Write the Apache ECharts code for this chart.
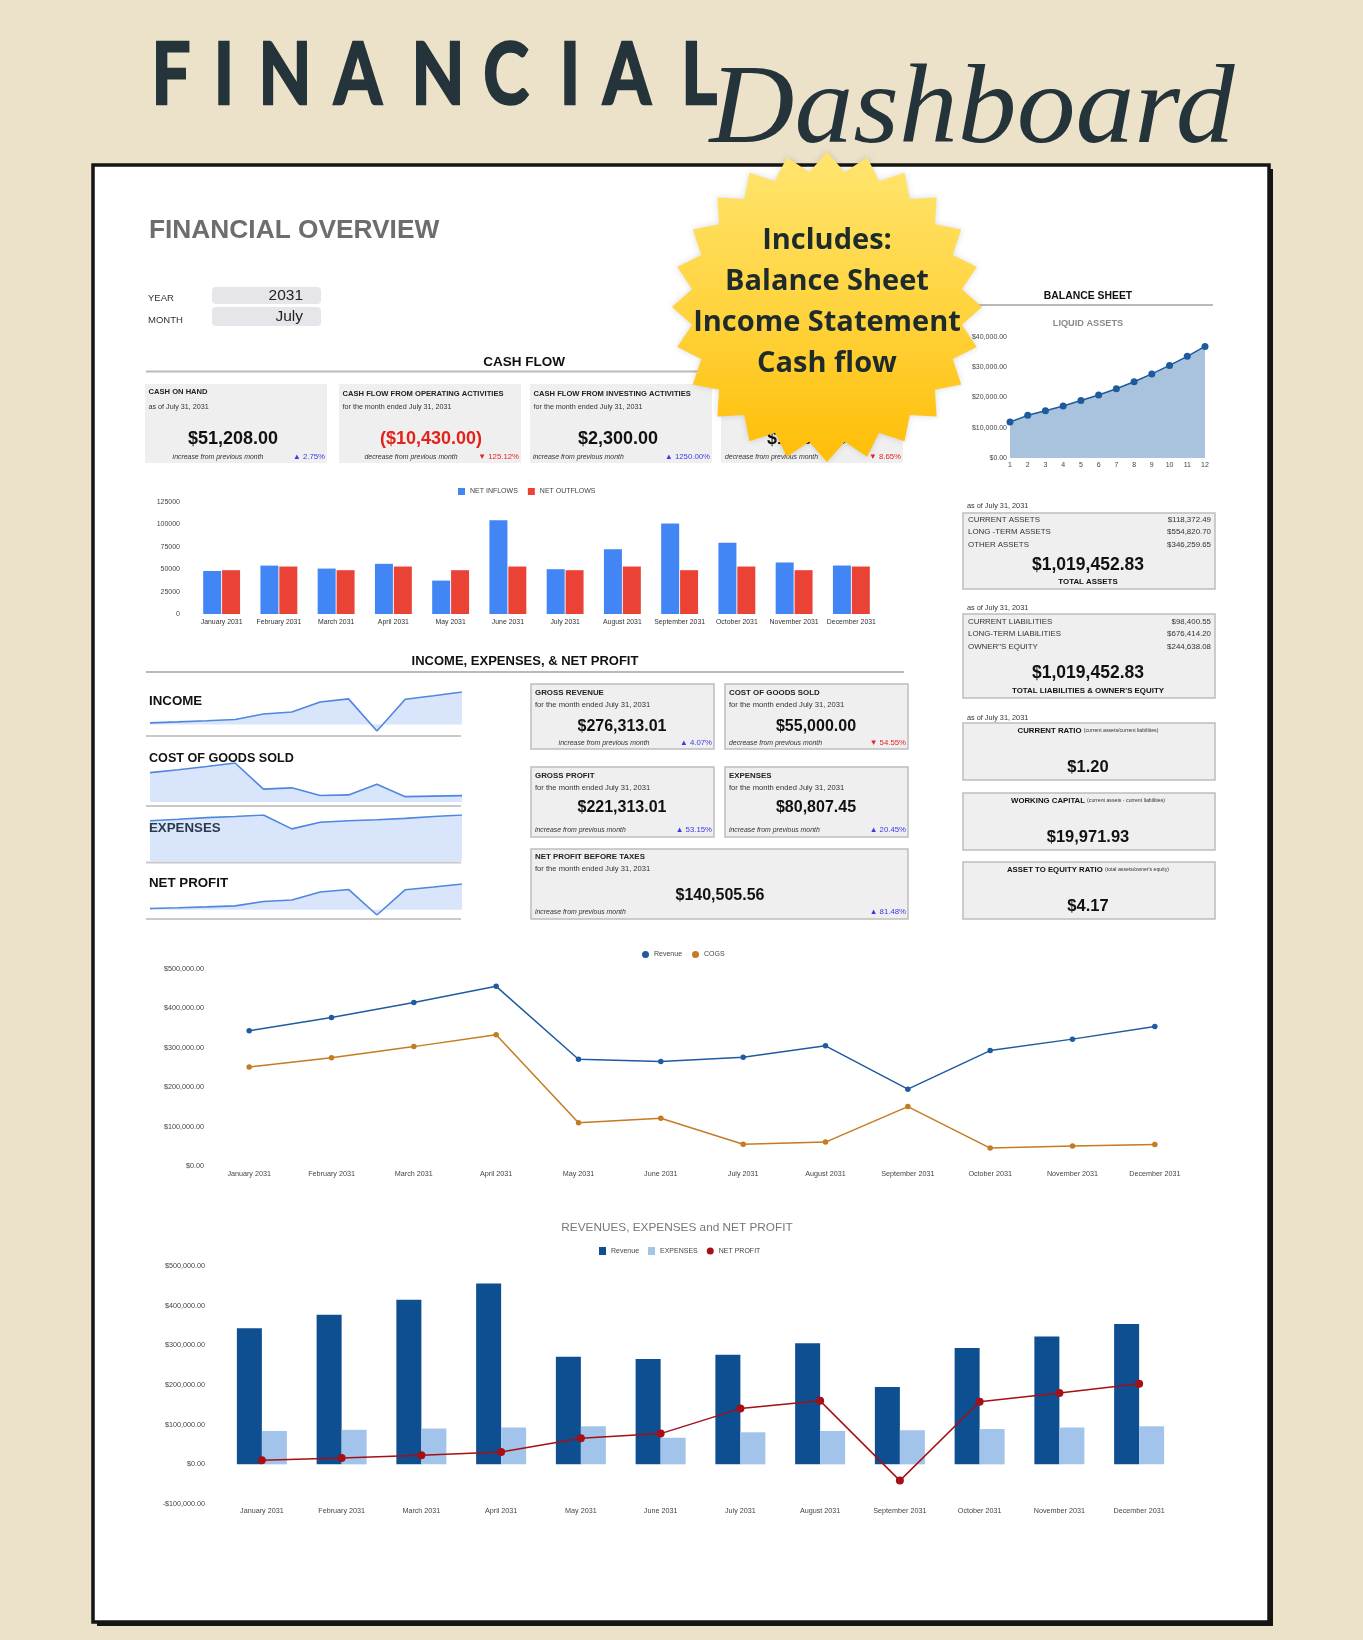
<!DOCTYPE html>
<html><head><meta charset="utf-8">
<script src="https://cdn.jsdelivr.net/npm/echarts/dist/echarts.min.js"></script>
<style>html,body{margin:0;padding:0;background:#ece2ca}#c{width:1363px;height:1640px}</style>
</head><body><div id="c"></div>
<script>
// ---------- DATA ----------
const months = ['January 2031','February 2031','March 2031','April 2031','May 2031','June 2031','July 2031','August 2031','September 2031','October 2031','November 2031','December 2031'];
const netInflows  = [48000, 54000, 50700, 56000, 37300, 104500, 50000, 72400, 101100, 79500, 57500, 54100];
const netOutflows = [48900, 53000, 48900, 53000, 48900, 53000, 48900, 53000, 48900, 53000, 48900, 53000];
const liquidLabels = ['1','2','3','4','5','6','7','8','9','10','11','12'];
const liquidAssets = [11900, 14100, 15600, 17200, 19000, 20800, 22900, 25200, 27800, 30600, 33600, 36900];
const revenue  = [343000, 377000, 415000, 456000, 271000, 265507, 276313, 305000, 195000, 293000, 322000, 354000];
const cogs     = [251000, 275000, 303000, 333000, 110000, 121000, 55000, 60600, 150700, 45500, 50500, 54700];
const expenses = [84000, 87000, 90500, 93000, 96000, 67088, 80807, 84000, 86000, 89000, 93000, 96000];
const netProfit = [10000, 16000, 23000, 31000, 65500, 77422, 140506, 160000, -41000, 158000, 180000, 203000];
const incomeTrend = [10000, 16000, 23000, 31000, 65500, 77422, 140506, 160000, -41000, 158000, 180000, 203000];

const cashTitles = ['CASH ON HAND','CASH FLOW FROM OPERATING ACTIVITIES','CASH FLOW FROM INVESTING ACTIVITIES','CASH FLOW FROM FINANCING ACTIVITIES'];
const cashSubs = ['as of July 31, 2031','for the month ended July 31, 2031','for the month ended July 31, 2031','for the month ended July 31, 2031'];
const cashValues = ['$51,208.00','($10,430.00)','$2,300.00','$19,501.00'];
const cashFoot = ['increase from previous month','decrease from previous month','increase from previous month','decrease from previous month'];
const cashPct = ['▲ 2.75%','▼ 125.12%','▲ 1250.00%','▼ 8.65%'];

const midTitles = ['GROSS REVENUE','COST OF GOODS SOLD','GROSS PROFIT','EXPENSES','NET PROFIT BEFORE TAXES'];
const midValues = ['$276,313.01','$55,000.00','$221,313.01','$80,807.45','$140,505.56'];
const midFoot = ['increase from previous month','decrease from previous month','increase from previous month','increase from previous month','increase from previous month'];
const midPct = ['▲ 4.07%','▼ 54.55%','▲ 53.15%','▲ 20.45%','▲ 81.48%'];

const assetRows = [['CURRENT ASSETS','$118,372.49'],['LONG -TERM ASSETS','$554,820.70'],['OTHER ASSETS','$346,259.65']];
const liabRows = [['CURRENT LIABILITIES','$98,400.55'],['LONG-TERM LIABILITIES','$676,414.20'],['OWNER"S EQUITY','$244,638.08']];
const totalAssets = '$1,019,452.83';
const totalLiab = '$1,019,452.83';
const ratioTitles = ['CURRENT RATIO','WORKING CAPITAL','ASSET TO EQUITY RATIO'];
const ratioNotes = ['(current assets/current liabilities)','(current assets - current liabilities)',"(total assets/owner's equity)"];
const ratioValues = ['$1.20','$19,971.93','$4.17'];

// ---------- HELPERS ----------
const F = '"Liberation Sans", Arial, sans-serif';
const G = [];
function txt(x, y, text, size, o) {
  o = o || {};
  const font = (o.italic ? 'italic ' : '') + (o.bold ? 'bold ' : '') + size + 'px ' + (o.family || F);
  const st = { text: text, font: font, fill: o.color || '#222',
    textAlign: o.align || 'left', textVerticalAlign: o.valign || 'middle',
    align: o.align || 'left', verticalAlign: o.valign || 'middle' };
  if (o.stroke) { st.stroke = o.stroke; st.lineWidth = o.lw || 1; }
  if (o.rich) st.rich = o.rich;
  G.push({ type: 'text', x: x, y: y, z: o.z != null ? o.z : 5, zlevel: o.zlevel || 0,
    scaleX: o.scaleX || 1, scaleY: o.scaleY || 1, silent: true, style: st });
}
function rect(x, y, w, h, fill, o) {
  o = o || {};
  G.push({ type: 'rect', z: o.z != null ? o.z : -5, silent: true,
    shape: { x: x, y: y, width: w, height: h, r: o.r || 0 },
    style: { fill: fill, stroke: o.stroke || null, lineWidth: o.lw || 0 } });
}
function hline(x1, x2, y, color, w) {
  G.push({ type: 'line', z: -4, silent: true, shape: { x1: x1, y1: y, x2: x2, y2: y }, style: { stroke: color, lineWidth: w } });
}
const money = v => (v < 0 ? '-' : '') + '$' + Math.abs(v).toLocaleString('en-US', { minimumFractionDigits: 2, maximumFractionDigits: 2 });
const UP = '#3b3be6', DOWN = '#e6232b';

// ---------- BACKGROUND / HEADER ----------
rect(0, 0, 1363, 1640, '#ece2ca', { z: -20 });
rect(97, 169, 1176, 1457, '#151515', { z: -19 });
rect(93, 165, 1176, 1457, '#ffffff', { z: -18, stroke: '#151515', lw: 3.5 });

const titleLetters = ['F','I','N','A','N','C','I','A','L'];
const letterX = [171, 224, 285, 358, 438, 506, 570, 627, 699];
titleLetters.forEach((l, i) => txt(letterX[i], 76, l, 86, { bold: true, family: 'Lato, "Open Sans", sans-serif', color: '#24343a', stroke: '#24343a', lw: 2.5, align: 'center', scaleX: 0.8, z: 6 }));
txt(972, 113, 'Dashboard', 112, { italic: true, family: '"Liberation Serif", serif', color: '#24343a', align: 'center', scaleX: 1.05, z: 6 });

// ---------- OVERVIEW ----------
txt(149, 231, 'FINANCIAL OVERVIEW', 26.3, { bold: true, color: '#6d6d6d' });
txt(148, 298, 'YEAR', 9.5, { color: '#333' });
txt(148, 320, 'MONTH', 9.5, { color: '#333' });
rect(212, 287, 109, 17, '#e6e6ea', { r: 4 });
rect(212, 307, 109, 19, '#e6e6ea', { r: 4 });
txt(303, 296, '2031', 15.5, { align: 'right', color: '#222' });
txt(303, 317, 'July', 15.5, { align: 'right', color: '#222' });

// ---------- CASH FLOW ----------
txt(524, 362, 'CASH FLOW', 13.5, { bold: true, align: 'center', color: '#111' });
hline(146, 904, 371.5, '#b9b9b9', 2);
const cashX = [145, 339, 530, 721];
const cashTitleY = [391.5, 394, 394, 394];
const cashVX = [233, 431, 618, 812];
const cashFX = [218, 411, 533, 725];
const cashFAlign = ['center', 'center', 'left', 'left'];
cashX.forEach((x, i) => {
  rect(x, 384, 182, 79, '#efefef');
  txt(x + 3.5, cashTitleY[i], cashTitles[i], 7.6, { bold: true, color: '#222' });
  txt(x + 3.5, 407, cashSubs[i], 7.2, { color: '#333' });
  txt(cashVX[i], 439, cashValues[i], 18, { bold: true, align: 'center', color: i === 1 ? '#e3221c' : '#111' });
  txt(cashFX[i], 457, cashFoot[i], 6.9, { italic: true, align: cashFAlign[i], color: '#333' });
  txt(x + 180, 457, cashPct[i], 7.8, { align: 'right', color: cashPct[i][0] === '▲' ? UP : DOWN });
});

// ---------- BALANCE SHEET ----------
txt(1088, 296, 'BALANCE SHEET', 10.4, { bold: true, align: 'center', color: '#111' });
hline(968, 1213, 305, '#b9b9b9', 2);
txt(1088, 323, 'LIQUID ASSETS', 9.2, { bold: true, align: 'center', color: '#8a8a8a' });

const boxStroke = { stroke: '#bdbdbd', lw: 1.5 };
txt(967, 506, 'as of July 31, 2031', 7.3, { color: '#333' });
rect(963, 513, 252, 76, '#efefef', boxStroke);
assetRows.forEach((r, i) => { txt(968, 520 + i * 12.2, r[0], 7.9, { color: '#333' }); txt(1211, 520 + i * 12.2, r[1], 7.9, { align: 'right', color: '#333' }); });
txt(1088, 565, totalAssets, 17.5, { bold: true, align: 'center', color: '#111' });
txt(1088, 582, 'TOTAL ASSETS', 7.9, { bold: true, align: 'center', color: '#111' });

txt(967, 608, 'as of July 31, 2031', 7.3, { color: '#333' });
rect(963, 614, 252, 84, '#efefef', boxStroke);
liabRows.forEach((r, i) => { txt(968, 622 + i * 12.2, r[0], 7.9, { color: '#333' }); txt(1211, 622 + i * 12.2, r[1], 7.9, { align: 'right', color: '#333' }); });
txt(1088, 673, totalLiab, 17.5, { bold: true, align: 'center', color: '#111' });
txt(1088, 691, "TOTAL LIABILITIES & OWNER'S EQUITY", 7.9, { bold: true, align: 'center', color: '#111' });

txt(967, 718, 'as of July 31, 2031', 7.3, { color: '#333' });
const ratioTop = [723, 793, 862];
ratioTop.forEach((y, i) => {
  rect(963, y, 252, 57, '#efefef', boxStroke);
  txt(1088, y + 7.5, '{a|' + ratioTitles[i] + '} {b|' + ratioNotes[i] + '}', 7.8, { align: 'center', color: '#111',
    rich: { a: { font: 'bold 7.8px ' + F, fill: '#111', color: '#111' }, b: { font: '5.2px ' + F, fill: '#333', color: '#333' } } });
  txt(1088, y + 44, ratioValues[i], 16.5, { bold: true, align: 'center', color: '#111' });
});

// ---------- INCOME, EXPENSES & NET PROFIT ----------
txt(525, 661, 'INCOME, EXPENSES, & NET PROFIT', 13, { bold: true, align: 'center', color: '#111' });
hline(146, 904, 672, '#b9b9b9', 2);
txt(149, 701, 'INCOME', 13.3, { bold: true, color: '#111', z: 1 });
txt(149, 759, 'COST OF GOODS SOLD', 12.6, { bold: true, color: '#111', z: 1 });
txt(149, 828, 'EXPENSES', 13.3, { bold: true, color: '#111', z: 1 });
txt(149, 883, 'NET PROFIT', 13.3, { bold: true, color: '#111', z: 1 });
[736, 806, 862.5, 919].forEach(y => hline(146, 461, y, '#c9c9c9', 2));

const midRect = [[531, 684, 183, 65], [725, 684, 183, 65], [531, 767, 183, 70], [725, 767, 183, 70], [531, 849, 377, 70]];
const midVX = [622, 816, 622, 816, 720];
const midFX = [604, 729, 535, 729, 535];
const midFAlign = ['center', 'left', 'left', 'left', 'left'];
const midOff = [[9, 21, 43, 59], [9, 21, 43, 59], [9, 21, 41, 63], [9, 21, 41, 63], [8, 20, 47, 63]];
midRect.forEach((r, i) => {
  const [x, y, w, h] = r; const o = midOff[i];
  rect(x, y, w, h, '#efefef', boxStroke);
  txt(x + 4, y + o[0], midTitles[i], 7.9, { bold: true, color: '#222' });
  txt(x + 4, y + o[1], 'for the month ended July 31, 2031', 7.6, { color: '#333' });
  txt(midVX[i], y + o[2], midValues[i], 16, { bold: true, align: 'center', color: '#111' });
  txt(midFX[i], y + o[3], midFoot[i], 6.9, { italic: true, align: midFAlign[i], color: '#333' });
  txt(x + w - 2, y + o[3], midPct[i], 7.8, { align: 'right', color: midPct[i][0] === '▲' ? UP : DOWN });
});

// ---------- BOTTOM CHART TITLE ----------
txt(677, 1228, 'REVENUES, EXPENSES and NET PROFIT', 11.8, { color: '#777', align: 'center' });

// ---------- STARBURST ----------
(function () {
  const cx = 827, cy = 307, R = 155, r = 136, n = 24, pts = [];
  for (let i = 0; i < 2 * n; i++) {
    const a = -Math.PI / 2 + i * Math.PI / n;
    const rad = i % 2 ? r : R;
    pts.push([cx + rad * Math.cos(a), cy + rad * Math.sin(a)]);
  }
  G.push({ type: 'polygon', z: 100, zlevel: 1, silent: true, shape: { points: pts },
    style: { fill: { type: 'linear', x: 0, y: 0, x2: 0, y2: 1, colorStops: [{ offset: 0, color: '#ffe56f' }, { offset: 0.55, color: '#ffd23a' }, { offset: 1, color: '#ffbd06' }] },
      shadowBlur: 6, shadowColor: 'rgba(0,0,0,0.15)' } });
  const lines = ['Includes:', 'Balance Sheet', 'Income Statement', 'Cash flow'];
  const ly = [241, 282, 323, 364];
  lines.forEach((s, i) => txt(cx, ly[i], s, 29, { bold: true, family: '"Open Sans", sans-serif', color: '#1e2b2b', align: 'center', z: 101, zlevel: 1 }));
})();

// ---------- CHART ----------
const axisTxt = { fontFamily: F, fontSize: 7.2, color: '#444' };
const hiddenAxis = { axisLine: { show: false }, axisTick: { show: false }, splitLine: { show: false } };
const spark = (name, data, idx) => ({
  name: name, type: 'line', xAxisIndex: idx, yAxisIndex: idx, data: data, symbol: 'none', z: 2,
  lineStyle: { color: '#4f86e0', width: 1.6 }, itemStyle: { color: '#4f86e0' },
  areaStyle: { color: 'rgba(110,160,240,0.39)' }
});

const chart = echarts.init(document.getElementById('c'), null, { renderer: 'canvas' });
chart.setOption({
  animation: false,
  backgroundColor: 'transparent',
  textStyle: { fontFamily: F },
  grid: [
    { left: 193, top: 502, width: 687, height: 112 },
    { left: 1010, top: 337, width: 195, height: 121 },
    { left: 150, top: 692, width: 312, height: 39 },
    { left: 150, top: 763, width: 312, height: 39 },
    { left: 150, top: 815, width: 312, height: 46 },
    { left: 150, top: 884, width: 312, height: 31 },
    { left: 208, top: 969, width: 988, height: 197 },
    { left: 222, top: 1266, width: 957, height: 238 }
  ],
  xAxis: [
    Object.assign({ gridIndex: 0, type: 'category', data: months, axisLabel: { interval: 0, margin: 5, fontSize: 6.9, fontFamily: F, color: '#333' } }, hiddenAxis),
    Object.assign({ gridIndex: 1, type: 'category', data: liquidLabels, boundaryGap: false, axisLabel: { interval: 0, margin: 4, fontSize: 7, fontFamily: F, color: '#444' } }, hiddenAxis),
    { gridIndex: 2, type: 'category', data: months, boundaryGap: false, show: false },
    { gridIndex: 3, type: 'category', data: months, boundaryGap: false, show: false },
    { gridIndex: 4, type: 'category', data: months, boundaryGap: false, show: false },
    { gridIndex: 5, type: 'category', data: months, boundaryGap: false, show: false },
    Object.assign({ gridIndex: 6, type: 'category', data: months, axisLabel: Object.assign({ interval: 0, margin: 5 }, axisTxt) }, hiddenAxis),
    Object.assign({ gridIndex: 7, type: 'category', data: months, axisLabel: Object.assign({ interval: 0, margin: 4 }, axisTxt) }, hiddenAxis)
  ],
  yAxis: [
    Object.assign({ gridIndex: 0, type: 'value', min: 0, max: 125000, interval: 25000, axisLabel: { margin: 13, fontSize: 7, fontFamily: F, color: '#444', formatter: v => String(v) } }, hiddenAxis),
    Object.assign({ gridIndex: 1, type: 'value', min: 0, max: 40000, interval: 10000, axisLabel: { margin: 3, fontSize: 7, fontFamily: F, color: '#444', formatter: money } }, hiddenAxis),
    { gridIndex: 2, type: 'value', min: 'dataMin', max: 'dataMax', show: false, splitLine: { show: false } },
    { gridIndex: 3, type: 'value', min: 0, max: 'dataMax', show: false, splitLine: { show: false } },
    { gridIndex: 4, type: 'value', min: 0, max: 'dataMax', show: false, splitLine: { show: false } },
    { gridIndex: 5, type: 'value', min: 'dataMin', max: 'dataMax', show: false, splitLine: { show: false } },
    Object.assign({ gridIndex: 6, type: 'value', min: 0, max: 500000, interval: 100000, axisLabel: Object.assign({ margin: 4, formatter: money }, axisTxt) }, hiddenAxis),
    Object.assign({ gridIndex: 7, type: 'value', min: -100000, max: 500000, interval: 100000, axisLabel: Object.assign({ margin: 17, formatter: money }, axisTxt) }, hiddenAxis)
  ],
  legend: [
    { left: 453, top: 483, itemWidth: 7, itemHeight: 7, itemGap: 10, icon: 'rect', textStyle: { fontSize: 7, fontFamily: F, color: '#444' }, data: ['NET INFLOWS', 'NET OUTFLOWS'] },
    { left: 637, top: 946, itemWidth: 7, itemHeight: 7, itemGap: 10, textStyle: { fontSize: 7, fontFamily: F, color: '#444' },
      data: [{ name: 'Revenue', icon: 'circle', itemStyle: { color: '#1f5ba0' } }, { name: 'COGS', icon: 'circle', itemStyle: { color: '#c47b22' } }] },
    { left: 594, top: 1242, itemWidth: 7, itemHeight: 8, itemGap: 9, textStyle: { fontSize: 7, fontFamily: F, color: '#444' },
      data: [{ name: 'Revenue', icon: 'rect', itemStyle: { color: '#0d4f91' } }, { name: 'EXPENSES', icon: 'rect', itemStyle: { color: '#a3c4ea' } }, { name: 'NET PROFIT', icon: 'circle', itemStyle: { color: '#a50f15' } }] }
  ],
  series: [
    { name: 'NET INFLOWS', type: 'bar', xAxisIndex: 0, yAxisIndex: 0, data: netInflows, barWidth: 18, barGap: '5%', itemStyle: { color: '#4285f4' } },
    { name: 'NET OUTFLOWS', type: 'bar', xAxisIndex: 0, yAxisIndex: 0, data: netOutflows, barWidth: 18, barGap: '5%', itemStyle: { color: '#ea4335' } },
    { name: 'Liquid Assets', type: 'line', xAxisIndex: 1, yAxisIndex: 1, data: liquidAssets, symbol: 'circle', symbolSize: 7,
      lineStyle: { color: '#1d5b9e', width: 1.5 }, itemStyle: { color: '#1d5b9e' }, areaStyle: { color: '#a9c3de', opacity: 1 } },
    spark('income trend', incomeTrend, 2),
    spark('cogs trend', cogs, 3),
    spark('expenses trend', expenses, 4),
    spark('net profit trend', netProfit, 5),
    { name: 'Revenue', type: 'line', xAxisIndex: 6, yAxisIndex: 6, data: revenue, symbol: 'circle', symbolSize: 5.5,
      lineStyle: { color: '#1f5ba0', width: 1.5 }, itemStyle: { color: '#1f5ba0' } },
    { name: 'COGS', type: 'line', xAxisIndex: 6, yAxisIndex: 6, data: cogs, symbol: 'circle', symbolSize: 5.5,
      lineStyle: { color: '#c47b22', width: 1.5 }, itemStyle: { color: '#c47b22' } },
    { name: 'Revenue', type: 'bar', xAxisIndex: 7, yAxisIndex: 7, data: revenue, barWidth: 25, barGap: '0%', itemStyle: { color: '#0d4f91' } },
    { name: 'EXPENSES', type: 'bar', xAxisIndex: 7, yAxisIndex: 7, data: expenses, barWidth: 25, barGap: '0%', itemStyle: { color: '#a3c4ea' } },
    { name: 'NET PROFIT', type: 'line', xAxisIndex: 7, yAxisIndex: 7, data: netProfit, symbol: 'circle', symbolSize: 8, z: 5,
      lineStyle: { color: '#a50f15', width: 1.5 }, itemStyle: { color: '#a50f15' } }
  ],
  graphic: { elements: G }
});
</script></body></html>
